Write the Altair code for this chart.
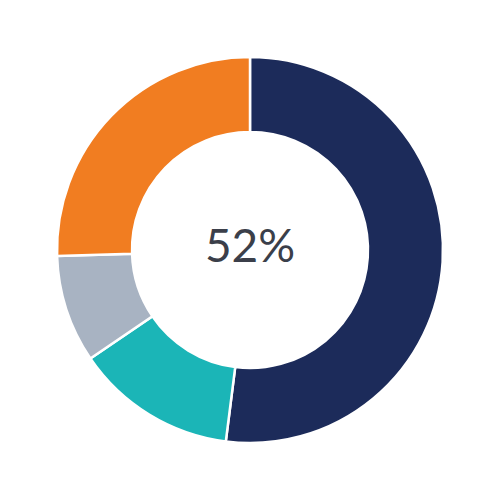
import altair as alt
import pandas as pd

categories = ["A", "B", "C", "D"]
values = [52, 13.5, 9, 25.5]
colors = ["#1c2b5a", "#1bb5b7", "#a8b3c2", "#f17d21"]
center_label = ["52%"]

df = pd.DataFrame({"cat": categories, "value": values, "order": list(range(len(values)))})

arc = alt.Chart(df).mark_arc(outerRadius=193, innerRadius=118, stroke="white", strokeWidth=2.5).encode(
    theta=alt.Theta("value:Q", stack=True),
    color=alt.Color("cat:N", scale=alt.Scale(domain=categories, range=colors), legend=None),
    order=alt.Order("order:Q"),
)

text = alt.Chart(pd.DataFrame({"t": center_label})).mark_text(
    font="Lato", fontWeight=400, fontSize=46, color="#3b3f4a", baseline="middle", align="center", dy=-2
).encode(text="t:N")

chart = alt.layer(arc, text).properties(width=484, height=484, padding=0, autosize="none").configure_view(stroke=None)
chart.save("out.html", embed_options={"renderer": "svg", "actions": False})
